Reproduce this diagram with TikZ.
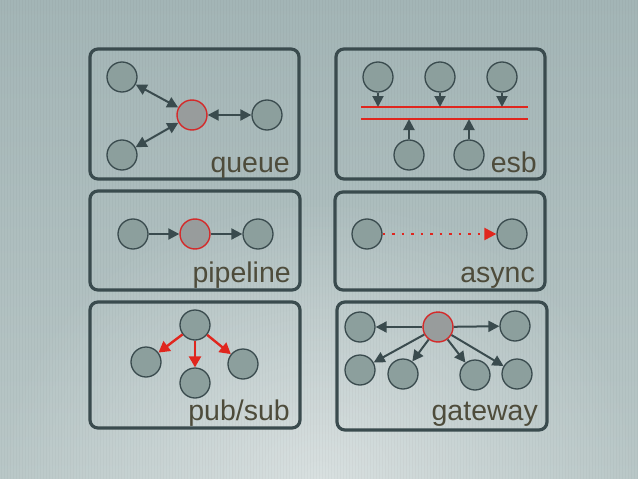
\documentclass[tikz,border=0pt]{standalone}
\usepackage{fontspec}
\setmainfont{Liberation Sans}
\usetikzlibrary{arrows.meta,fadings}
\definecolor{bgtop}{HTML}{A3B5B6}
\definecolor{bgbot}{HTML}{B9C7C7}
\definecolor{frame}{HTML}{3A4B4E}
\definecolor{nodefill}{HTML}{8C9F9D}
\definecolor{hubfill}{HTML}{989C9C}
\definecolor{hubred}{HTML}{D42A2A}
\definecolor{labelcol}{HTML}{4E4C3B}
\definecolor{redline}{HTML}{E0261E}
\tikzfading[name=glow, inner color=transparent!0, outer color=transparent!100]
\begin{document}
\begin{tikzpicture}[x=1pt,y=-1pt,
  panel/.style={draw=frame,line width=3.2pt,rounded corners=8pt},
  svc/.style={circle,draw=frame,line width=1.3pt,fill=nodefill,minimum size=30pt,inner sep=0pt},
  hub/.style={svc,draw=hubred,line width=1.4pt,fill=hubfill},
  conn/.style={draw=frame,line width=2pt,-{Triangle[length=11pt,width=11pt]}},
  biconn/.style={draw=frame,line width=2pt,{Triangle[length=11pt,width=11pt]}-{Triangle[length=11pt,width=11pt]}},
  redconn/.style={draw=redline,fill=redline,line width=2.4pt,-{Triangle[length=11pt,width=12pt]}},
  asyncconn/.style={draw=redline,line width=2.4pt,dash pattern=on 2.5pt off 7pt,-{Triangle[length=12pt,width=12pt]}},
  tag/.style={font=\fontsize{28.5}{30}\selectfont,text=labelcol,anchor=base east,inner sep=0pt},
  bus/.style={draw=redline,line width=1.5pt}
]
\useasboundingbox (0,0) rectangle (638,479);
\shade[top color=bgtop,bottom color=bgbot] (0,0) rectangle (638,479);
\fill[white,opacity=0.45,path fading=glow] (319,479) ellipse [x radius=320, y radius=280];
\foreach \sx in {1.5,4.5,...,638} \draw[black,opacity=0.025,line width=1pt] (\sx,0) -- (\sx,479);

% panels
\draw[panel] (90,49) rectangle (299,179);
\draw[panel] (336,49) rectangle (545,179);
\draw[panel] (90,191) rectangle (300,290);
\draw[panel] (335,192) rectangle (545,290);
\draw[panel] (90,302) rectangle (300,428);
\draw[panel] (337,302) rectangle (547,430);

% queue
\node[svc] (q1) at (122,77) {};
\node[svc] (q2) at (122,155) {};
\node[hub] (qh) at (192,115) {};
\node[svc] (q3) at (267,115) {};
\draw[biconn] (q1) -- (qh);
\draw[biconn] (q2) -- (qh);
\draw[biconn] (qh) -- (q3);
\node[tag] (lq) at (290,172) {queue};

% esb
\node[svc] (e1) at (378,77) {};
\node[svc] (e2) at (440,77) {};
\node[svc] (e3) at (502,77) {};
\node[svc] (e4) at (409,155) {};
\node[svc] (e5) at (469,155) {};
\coordinate (busAl) at (361,107);
\coordinate (busAr) at (528,107);
\coordinate (busBl) at (361,119);
\coordinate (busBr) at (528,119);
\draw[bus] (busAl) -- (busAr);
\draw[bus] (busBl) -- (busBr);
\coordinate (t1) at (378,107);
\coordinate (t2) at (440,107);
\coordinate (t3) at (502,107);
\coordinate (t4) at (409,119);
\coordinate (t5) at (469,119);
\draw[conn] (e1) -- (t1);
\draw[conn] (e2) -- (t2);
\draw[conn] (e3) -- (t3);
\draw[conn] (e4) -- (t4);
\draw[conn] (e5) -- (t5);
\node[tag] (le) at (537,172) {esb};

% pipeline
\node[svc] (p1) at (133,234) {};
\node[hub] (ph) at (195,234) {};
\node[svc] (p2) at (258,234) {};
\draw[conn] (p1) -- (ph);
\draw[conn] (ph) -- (p2);
\node[tag] (lp) at (291,282) {pipeline};

% async
\node[svc] (a1) at (367,234) {};
\node[svc] (a2) at (512,234) {};
\draw[asyncconn] (a1) -- (a2);
\node[tag] (la) at (535,282) {async};

% pub/sub
\node[svc] (s0) at (195,325) {};
\node[svc] (s1) at (146,362) {};
\node[svc] (s2) at (195,383) {};
\node[svc] (s3) at (243,364) {};
\draw[redconn] (s0) -- (s1);
\draw[redconn] (s0) -- (s2);
\draw[redconn] (s0) -- (s3);
\node[tag] (ls) at (290,420) {pub/sub};

% gateway
\node[hub] (gh) at (438,327) {};
\node[svc] (g1) at (360,327) {};
\node[svc] (g2) at (515,326) {};
\node[svc] (g3) at (360,370) {};
\node[svc] (g4) at (403,374) {};
\node[svc] (g5) at (475,375) {};
\node[svc] (g6) at (517,374) {};
\draw[conn] (gh) -- (g1);
\draw[conn] (gh) -- (g2);
\draw[conn] (gh) -- (g3);
\draw[conn] (gh) -- (g4);
\draw[conn] (gh) -- (g5);
\draw[conn] (gh) -- (g6);
\node[tag] (lg) at (538,420) {gateway};
\end{tikzpicture}
\end{document}
